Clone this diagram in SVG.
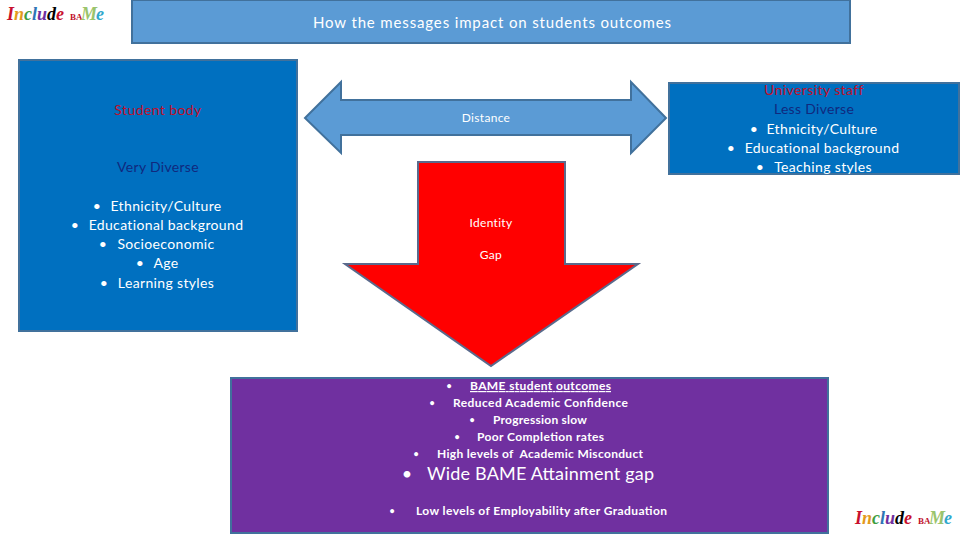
<svg xmlns="http://www.w3.org/2000/svg" width="960" height="540" viewBox="0 0 960 540">
<style>
text{font-family:Lato,"Open Sans",sans-serif;text-anchor:middle;white-space:pre}
.box{stroke:#41719c;stroke-width:2}
.w{fill:#fff;font-size:14px;letter-spacing:.35px}
.r{fill:#c00f2a;font-size:14px;letter-spacing:.4px}
.n{fill:#10297e;font-size:14px;letter-spacing:.3px}
.s{fill:#fff;font-size:12px;letter-spacing:.3px}
.o{fill:#fff;font-size:12px;font-weight:700;text-anchor:start}
.b{fill:#fff;font-size:9px;font-weight:700}
.l{font-family:"Liberation Serif",serif;font-size:18px;font-weight:700;font-style:italic;text-anchor:start}
.m{font-family:"Liberation Serif",serif;font-size:18px;font-weight:700;font-style:italic;text-anchor:start}
.l2{font-family:"Liberation Serif",serif;font-size:9px;font-weight:700;text-anchor:start;fill:#c00f2a}
</style>
<defs>
<g id="logo">
<text class="l" x="0" y="0" textLength="57"><tspan fill="#c8102e">I</tspan><tspan fill="#e39a1c">n</tspan><tspan fill="#3f9e3f">c</tspan><tspan fill="#2e75b6">l</tspan><tspan fill="#7030a0">u</tspan><tspan fill="#000">d</tspan><tspan fill="#c8102e">e</tspan></text>
<text class="l2" x="63" y="0">BA</text>
<text class="m" x="74" y="0" textLength="23"><tspan fill="#9bc46c">M</tspan><tspan fill="#2fa8cc">e</tspan></text>
</g>
</defs>
<g id="logo-top"><use href="#logo" x="7" y="20"/></g>
<g id="title"><rect class="box" x="132" y="0" width="718" height="43" fill="#5b9bd5"/><text x="313" y="28" fill="#fff" font-size="15" style="text-anchor:start" textLength="358">How the messages impact on students outcomes</text></g>
<g id="student-body"><rect class="box" x="19" y="60" width="278" height="271" fill="#0070c0"/>
<text class="r" x="158" y="115">Student body</text>
<text class="n" x="158" y="172">Very Diverse</text>
<text class="w" x="97" y="211">•</text><text class="w" x="166" y="211">Ethnicity/Culture</text>
<text class="w" x="75" y="230">•</text><text class="w" x="166" y="230">Educational background</text>
<text class="w" x="103" y="249">•</text><text class="w" x="166" y="249">Socioeconomic</text>
<text class="w" x="140" y="268">•</text><text class="w" x="166" y="268">Age</text>
<text class="w" x="104" y="288">•</text><text class="w" x="166" y="288">Learning styles</text></g>
<g id="distance"><path class="box" fill="#5b9bd5" d="M305 118L341 82V100H631V82L666 118L631 153V135H341V153Z"/><text class="s" x="486" y="122">Distance</text></g>
<g id="university-staff"><rect class="box" x="669" y="83" width="290" height="91" fill="#0070c0"/>
<text class="r" x="814" y="95">University staff</text>
<text class="n" x="814" y="114">Less Diverse</text>
<text class="w" x="754" y="134">•</text><text class="w" x="822" y="134">Ethnicity/Culture</text>
<text class="w" x="731" y="153">•</text><text class="w" x="822" y="153">Educational background</text>
<text class="w" x="760" y="172">•</text><text class="w" x="823" y="172">Teaching styles</text></g>
<g id="identity-gap"><path fill="#ff0000" stroke="#5a6a8c" stroke-width="2" d="M418 162H565V264H638L491 366L345 264H418Z"/>
<text class="s" x="491" y="227">Identity</text><text class="s" x="491" y="259">Gap</text></g>
<g id="outcomes"><rect x="231" y="378" width="597" height="155" fill="#7030a0" stroke="#41719c" stroke-width="2"/>
<text class="b" x="449" y="389">•</text><text class="o" x="470" y="390" textLength="141" text-decoration="underline">BAME student outcomes</text>
<text class="b" x="432" y="406">•</text><text class="o" x="453" y="407" textLength="175">Reduced Academic Confidence</text>
<text class="b" x="472" y="423">•</text><text class="o" x="493" y="424" textLength="94">Progression slow</text>
<text class="b" x="457" y="440">•</text><text class="o" x="477" y="441" textLength="127">Poor Completion rates</text>
<text class="b" x="416" y="457">•</text><text class="o" x="437" y="458" textLength="206">High levels of  Academic Misconduct</text>
<text x="407" y="480" fill="#fff" font-size="18">•</text><text x="427" y="480" fill="#fff" font-size="18" style="text-anchor:start" textLength="227">Wide BAME Attainment gap</text>
<text class="b" x="392" y="514">•</text><text class="o" x="416" y="515" textLength="251">Low levels of Employability after Graduation</text></g>
<g id="logo-bottom"><use href="#logo" x="855" y="524"/></g>
</svg>
